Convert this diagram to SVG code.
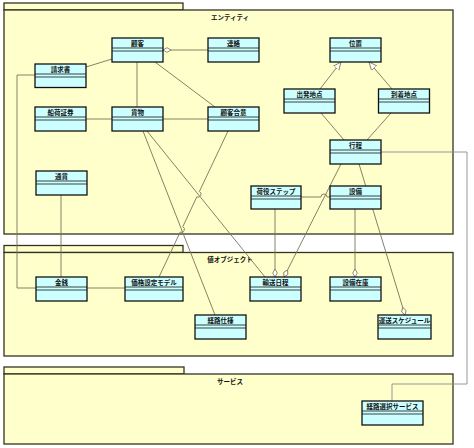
<svg xmlns="http://www.w3.org/2000/svg" width="474" height="448" viewBox="0 0 474 448">
<defs>
<style>
.pkg{fill:#FFFFCC;stroke:#333322;stroke-width:1.3}
.nb{fill:#CCFFFF;stroke:#111;stroke-width:1.3}
.sep{stroke:#111;stroke-width:0.8;fill:none}
.t{font-family:"Noto Sans CJK JP","Noto Sans",sans-serif;font-weight:bold;font-size:6.5px;fill:#111;text-anchor:middle}
.c{fill:none;stroke:#7a7256;stroke-width:0.9}
.c2{fill:none;stroke:#8a8a8a;stroke-width:0.9}
</style>
<marker id="dia" markerUnits="userSpaceOnUse" markerWidth="10" markerHeight="8" refX="8" refY="4" orient="auto">
<path d="M0,4 L4,1.7 L8,4 L4,6.3 Z" fill="#fff" stroke="#7a7256" stroke-width="0.8"/>
</marker>
<marker id="diaS" markerUnits="userSpaceOnUse" markerWidth="10" markerHeight="8" refX="0" refY="4" orient="auto">
<path d="M0,4 L4,1.7 L8,4 L4,6.3 Z" fill="#fff" stroke="#7a7256" stroke-width="0.8"/>
</marker>
<marker id="tri" markerUnits="userSpaceOnUse" markerWidth="10" markerHeight="10" refX="8" refY="5" orient="auto">
<path d="M0,1.5 L8,5 L0,8.5 Z" fill="#fff" stroke="#7a7256" stroke-width="0.8"/>
</marker>
</defs>

<g id="pkg-entity">
<rect class="pkg" x="4" y="3" width="179" height="7"/>
<rect class="pkg" x="4" y="10" width="449" height="224"/>
<text class="t" x="230" y="20">エンティティ</text>
</g>
<g id="pkg-value">
<rect class="pkg" x="4" y="245.5" width="179" height="7"/>
<rect class="pkg" x="4" y="252.5" width="449" height="103.5"/>
<text class="t" x="230" y="261.5">値オブジェクト</text>
</g>
<g id="pkg-service">
<rect class="pkg" x="4" y="367" width="180" height="7"/>
<rect class="pkg" x="4" y="374" width="449" height="70"/>
<text class="t" x="230" y="383.5">サービス</text>
</g>

<g id="connectors">
<path class="c" d="M208,50 L163,50" marker-end="url(#dia)"/>
<path class="c" d="M112,59 L86,67"/>
<path class="c" d="M35,75 L17,75 L17,288 L36,288"/>
<path class="c" d="M137,62 L137,107"/>
<path class="c" d="M155,62 L215,107"/>
<path class="c" d="M86,119 L112,119"/>
<path class="c" d="M163,119 L208,119"/>
<path class="c" d="M228,131 L199.4,191.5 A3,3 0 0 1 196.8,196.9 L182.8,226.7 A3,3 0 0 1 180.2,232.1 L159,277"/>
<path class="c" d="M143,131 L215,315"/>
<path class="c" d="M147,131 L265,277"/>
<path class="c" d="M341,164 L284,277" marker-end="url(#dia)"/>
<path class="c" d="M301,197 L321,197 A3,3 0 0 1 327,197 L330,197"/>
<path class="c" d="M275,209 L275,277" marker-end="url(#dia)"/>
<path class="c" d="M355,209 L355,277" marker-end="url(#dia)"/>
<path class="c" d="M359,164 L405,315" marker-end="url(#dia)"/>
<path class="c2" d="M381,152 L467,152 L467,384 L392,384 L392,401"/>
<path class="c" d="M320,89 L341,62" marker-end="url(#tri)"/>
<path class="c" d="M392,89 L369,62" marker-end="url(#tri)"/>
<path class="c" d="M321,113 L344,140"/>
<path class="c" d="M391,113 L367,140"/>
<path class="c" d="M61,195 L61,277"/>
<path class="c" d="M87,288 L125,288"/>
</g>

<g id="n-kokyaku"><rect class="nb" x="112" y="38" width="51" height="24"/><path class="sep" d="M112,48 H163 M112,51 H163"/><text class="t" x="137.5" y="46">顧客</text></g>
<g id="n-renraku"><rect class="nb" x="208" y="38" width="51" height="24"/><path class="sep" d="M208,48 H259 M208,51 H259"/><text class="t" x="233.5" y="46">連絡</text></g>
<g id="n-seikyusho"><rect class="nb" x="35" y="64" width="51" height="23.5"/><path class="sep" d="M35,74 H86 M35,77 H86"/><text class="t" x="60.5" y="72">請求書</text></g>
<g id="n-funani"><rect class="nb" x="35" y="107" width="51" height="24"/><path class="sep" d="M35,117 H86 M35,120 H86"/><text class="t" x="60.5" y="115">船荷証券</text></g>
<g id="n-kamotsu"><rect class="nb" x="112" y="107" width="51" height="24"/><path class="sep" d="M112,117 H163 M112,120 H163"/><text class="t" x="137.5" y="115">貨物</text></g>
<g id="n-goi"><rect class="nb" x="208" y="107" width="51" height="24"/><path class="sep" d="M208,117 H259 M208,120 H259"/><text class="t" x="233.5" y="115">顧客合意</text></g>
<g id="n-ichi"><rect class="nb" x="330" y="38" width="51" height="24"/><path class="sep" d="M330,48 H381 M330,51 H381"/><text class="t" x="355.5" y="46">位置</text></g>
<g id="n-shuppatsu"><rect class="nb" x="284" y="89" width="51" height="24"/><path class="sep" d="M284,99 H335 M284,102 H335"/><text class="t" x="309.5" y="97">出発地点</text></g>
<g id="n-tochaku"><rect class="nb" x="378.5" y="89" width="51" height="24"/><path class="sep" d="M378.5,99 H429.5 M378.5,102 H429.5"/><text class="t" x="404" y="97">到着地点</text></g>
<g id="n-kotei"><rect class="nb" x="330" y="140" width="51" height="24"/><path class="sep" d="M330,150 H381 M330,153 H381"/><text class="t" x="355.5" y="148">行程</text></g>
<g id="n-niyaku"><rect class="nb" x="251" y="186" width="50" height="23"/><path class="sep" d="M251,196 H301 M251,199 H301"/><text class="t" x="276" y="194">荷役ステップ</text></g>
<g id="n-setsubi"><rect class="nb" x="330" y="186" width="51" height="23"/><path class="sep" d="M330,196 H381 M330,199 H381"/><text class="t" x="355.5" y="194">設備</text></g>
<g id="n-tsuka"><rect class="nb" x="36" y="171" width="51" height="24"/><path class="sep" d="M36,181 H87 M36,184 H87"/><text class="t" x="61.5" y="179">通貨</text></g>
<g id="n-kinsen"><rect class="nb" x="36" y="277" width="51" height="24"/><path class="sep" d="M36,287 H87 M36,290 H87"/><text class="t" x="61.5" y="285">金銭</text></g>
<g id="n-kakaku"><rect class="nb" x="125" y="277" width="58" height="24"/><path class="sep" d="M125,287 H183 M125,290 H183"/><text class="t" x="154" y="285">価格設定モデル</text></g>
<g id="n-keiro"><rect class="nb" x="195" y="315" width="51" height="24"/><path class="sep" d="M195,325 H246 M195,328 H246"/><text class="t" x="220.5" y="323">経路仕様</text></g>
<g id="n-yuso"><rect class="nb" x="250" y="277" width="51" height="24"/><path class="sep" d="M250,287 H301 M250,290 H301"/><text class="t" x="275.5" y="285">輸送日程</text></g>
<g id="n-zaiko"><rect class="nb" x="330" y="277" width="51" height="24"/><path class="sep" d="M330,287 H381 M330,290 H381"/><text class="t" x="355.5" y="285">設備在庫</text></g>
<g id="n-unso"><rect class="nb" x="378" y="315" width="53" height="24"/><path class="sep" d="M378,325 H431 M378,328 H431"/><text class="t" x="404.5" y="323">運送スケジュール</text></g>
<g id="n-service"><rect class="nb" x="362" y="401" width="61" height="24"/><path class="sep" d="M362,411 H423 M362,414 H423"/><text class="t" x="392.5" y="409">経路選択サービス</text></g>
</svg>
